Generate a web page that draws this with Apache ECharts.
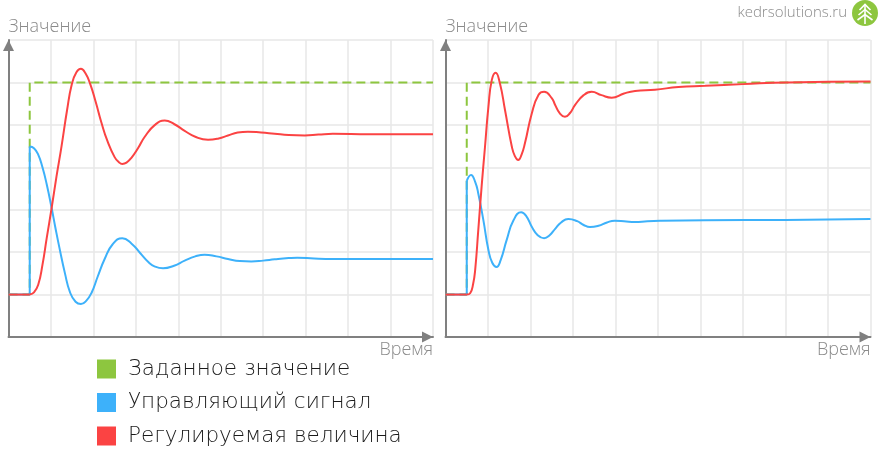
<!DOCTYPE html>
<html><head><meta charset="utf-8">
<script src="https://cdn.jsdelivr.net/npm/echarts@6/dist/echarts.min.js"></script>
<style>html,body{margin:0;padding:0;background:#fff}#c{width:880px;height:450px}</style>
</head><body><div id="c"></div>
<script>
// ---- Legend / series names ----
const seriesNames = ['Заданное значение', 'Управляющий сигнал', 'Регулируемая величина'];
const yAxisTitle = 'Значение';
const xAxisTitle = 'Время';
const watermark = 'kedrsolutions.ru';

// ---- Left chart (time, value) ----
const leftSetpoint = [[0,1],[0.5,1],[0.5,6],[10,6]];
const leftControlJump = [[0,1],[0.5,1],[0.5,4.49]];
const leftControl = [[0.5,4.49],[0.6,4.45],[0.7,4.3],[0.8,4.0],[0.9,3.6],[1.016,3.04],[1.1,2.6],[1.2,2.1],[1.33,1.5],[1.45,1.05],[1.58,0.83],[1.706,0.775],[1.83,0.85],[1.96,1.05],[2.1,1.42],[2.27,1.85],[2.45,2.18],[2.68,2.33],[2.9,2.2],[3.1,1.98],[3.3,1.76],[3.45,1.66],[3.64,1.62],[3.9,1.68],[4.15,1.8],[4.4,1.9],[4.62,1.94],[4.9,1.9],[5.17,1.84],[5.45,1.79],[5.72,1.78],[6.0,1.8],[6.27,1.83],[6.6,1.86],[6.8,1.87],[7.2,1.85],[7.64,1.84],[10,1.84]];
const leftOutputBase = [[0,1],[0.5,1]];
const leftOutput = [[0.5,1],[0.6,1.05],[0.7,1.23],[0.8,1.7],[0.9,2.33],[1.016,3.04],[1.13,3.78],[1.25,4.5],[1.38,5.35],[1.49,5.95],[1.6,6.24],[1.706,6.32],[1.81,6.22],[1.93,5.95],[2.06,5.52],[2.19,5.05],[2.33,4.62],[2.5,4.24],[2.6,4.12],[2.68,4.08],[2.78,4.11],[2.9,4.23],[3.05,4.45],[3.21,4.72],[3.45,5.0],[3.68,5.10],[3.9,5.02],[4.15,4.86],[4.4,4.72],[4.7,4.65],[4.95,4.68],[5.17,4.75],[5.4,4.82],[5.64,4.84],[5.95,4.82],[6.27,4.79],[6.6,4.76],[6.98,4.75],[7.3,4.77],[7.64,4.79],[8.5,4.78],[10,4.78]];

// ---- Right chart (time, value) ----
const rightSetpoint = [[0,1],[0.5,1],[0.5,6],[10,6]];
const rightControlJump = [[0,1],[0.5,1],[0.5,3.68]];
const rightControl = [[0.5,3.68],[0.6,3.82],[0.7,3.65],[0.77,3.39],[0.89,2.76],[1.01,2.05],[1.1,1.75],[1.2,1.65],[1.3,1.82],[1.44,2.29],[1.6,2.75],[1.78,2.94],[1.9,2.85],[2.03,2.6],[2.17,2.4],[2.32,2.33],[2.45,2.4],[2.58,2.55],[2.72,2.7],[2.89,2.78],[3.1,2.73],[3.25,2.64],[3.4,2.59],[3.6,2.62],[3.8,2.7],[3.98,2.74],[4.2,2.73],[4.46,2.71],[4.75,2.73],[5.08,2.74],[6.11,2.75],[8,2.76],[10,2.78]];
const rightOutputBase = [[0,1],[0.5,1]];
const rightOutput = [[0.5,1],[0.58,1.03],[0.65,1.25],[0.7,1.6],[0.77,2.5],[0.85,3.55],[0.93,4.49],[1.01,5.43],[1.09,6.06],[1.18,6.23],[1.28,5.98],[1.4,5.35],[1.56,4.49],[1.63,4.27],[1.71,4.17],[1.79,4.3],[1.87,4.57],[2.03,5.27],[2.19,5.71],[2.32,5.78],[2.5,5.63],[2.58,5.47],[2.69,5.27],[2.81,5.19],[2.93,5.28],[3.05,5.47],[3.25,5.7],[3.44,5.78],[3.67,5.7],[3.91,5.64],[4.2,5.74],[4.46,5.8],[4.93,5.83],[5.48,5.89],[6.11,5.92],[7.0,5.96],[8.03,6.0],[10,6.02]];

// ---- Axis ranges ----
const xRange = [0, 10];
const yRange = [0, 7];

const GREEN = '#8dc63f', BLUE = '#3db1fa', RED = '#fb4343';
const FONT = '"Open Sans", "Noto Sans", sans-serif';
const LEGEND_FONT = '"DejaVu Sans", "Open Sans", sans-serif';

function xAx(i){
  return {type:'value', gridIndex:i, min:xRange[0], max:xRange[1], interval:1,
    axisLabel:{show:false}, axisTick:{show:false},
    splitLine:{show:true, lineStyle:{color:'#e7e7e7', width:1.5}},
    axisLine:{show:true, onZero:false, symbol:['none','triangle'], symbolSize:[11,11], symbolOffset:[0,-5.5],
      lineStyle:{color:'#808080', width:2}},
    name:xAxisTitle, nameLocation:'end', nameGap:0,
    nameTextStyle:{align:'right', verticalAlign:'top', padding:[4,0,0,0], fontSize:18, fontWeight:300, color:'#8a8a8a', fontFamily:FONT}};
}
function yAx(i){
  return {type:'value', gridIndex:i, min:yRange[0], max:yRange[1], interval:1,
    axisLabel:{show:false}, axisTick:{show:false},
    splitLine:{show:true, lineStyle:{color:'#e7e7e7', width:1.5}},
    axisLine:{show:true, onZero:false, symbol:['none','triangle'], symbolSize:[11,11], symbolOffset:[0,-5.5],
      lineStyle:{color:'#808080', width:2}},
    name:yAxisTitle, nameLocation:'end', nameGap:4,
    nameTextStyle:{align:'left', verticalAlign:'bottom', fontSize:18, fontWeight:300, color:'#8a8a8a', fontFamily:FONT}};
}
function ln(name, data, i, color, extra){
  return Object.assign({type:'line', name:name, data:data, xAxisIndex:i, yAxisIndex:i,
    showSymbol:false, symbol:'none', color:color, itemStyle:{color:color},
    lineStyle:{color:color, width:2}, animation:false}, extra||{});
}
const series = [];
[[leftSetpoint,leftControlJump,leftControl,leftOutputBase,leftOutput],
 [rightSetpoint,rightControlJump,rightControl,rightOutputBase,rightOutput]].forEach(function(s, i){
  series.push(ln(seriesNames[0], s[0], i, GREEN, {lineStyle:{color:GREEN, width:2, type:[9,5]}, z:2}));
  series.push(ln(seriesNames[1], s[1], i, BLUE, {z:3}));
  series.push(ln(seriesNames[1], s[2], i, BLUE, {smooth:0.5, z:3}));
  series.push(ln(seriesNames[2], s[3], i, RED, {z:4}));
  series.push(ln(seriesNames[2], s[4], i, RED, {smooth:0.5, z:4}));
});

const legendTops = [358, 391.5, 425];
const legends = seriesNames.map(function(n, k){
  return {orient:'vertical', left:97, top:legendTops[k], itemWidth:19, itemHeight:19, icon:'rect', padding:0,
    selectedMode:false, data:[n], itemStyle:{borderWidth:0},
    textStyle:{fontSize:21.5, fontWeight:200, color:'#1a1a1a', fontFamily:LEGEND_FONT, padding:[0,0,0,7]}};
});

const chart = echarts.init(document.getElementById('c'), null, {renderer:'canvas'});
chart.setOption({
  animation:false,
  backgroundColor:'#fff',
  grid:[{left:8.5, top:40, width:424.5, height:297},{left:445.5, top:40, width:425, height:297}],
  xAxis:[xAx(0), xAx(1)],
  yAxis:[yAx(0), yAx(1)],
  legend:legends,
  graphic:[
    {type:'text', silent:true, style:{text:watermark, x:847, y:13, align:'right', verticalAlign:'middle',
      font:'300 15px "Open Sans", sans-serif', fill:'#8a8a8a'}},
    {type:'circle', silent:true, shape:{cx:865, cy:13, r:13}, style:{fill:GREEN}},
    {type:'polyline', silent:true, shape:{points:[[865,4],[865,24]]}, style:{stroke:'#fff', lineWidth:1.6, fill:null}},
    {type:'polyline', silent:true, shape:{points:[[859.5,10],[865,4.5],[870.5,10]]}, style:{stroke:'#fff', lineWidth:1.6, fill:null}},
    {type:'polyline', silent:true, shape:{points:[[858.5,15],[865,9.5],[871.5,15]]}, style:{stroke:'#fff', lineWidth:1.6, fill:null}},
    {type:'polyline', silent:true, shape:{points:[[857.5,20],[865,14.5],[872.5,20]]}, style:{stroke:'#fff', lineWidth:1.6, fill:null}}
  ],
  series:series
});
</script>
</body></html>
